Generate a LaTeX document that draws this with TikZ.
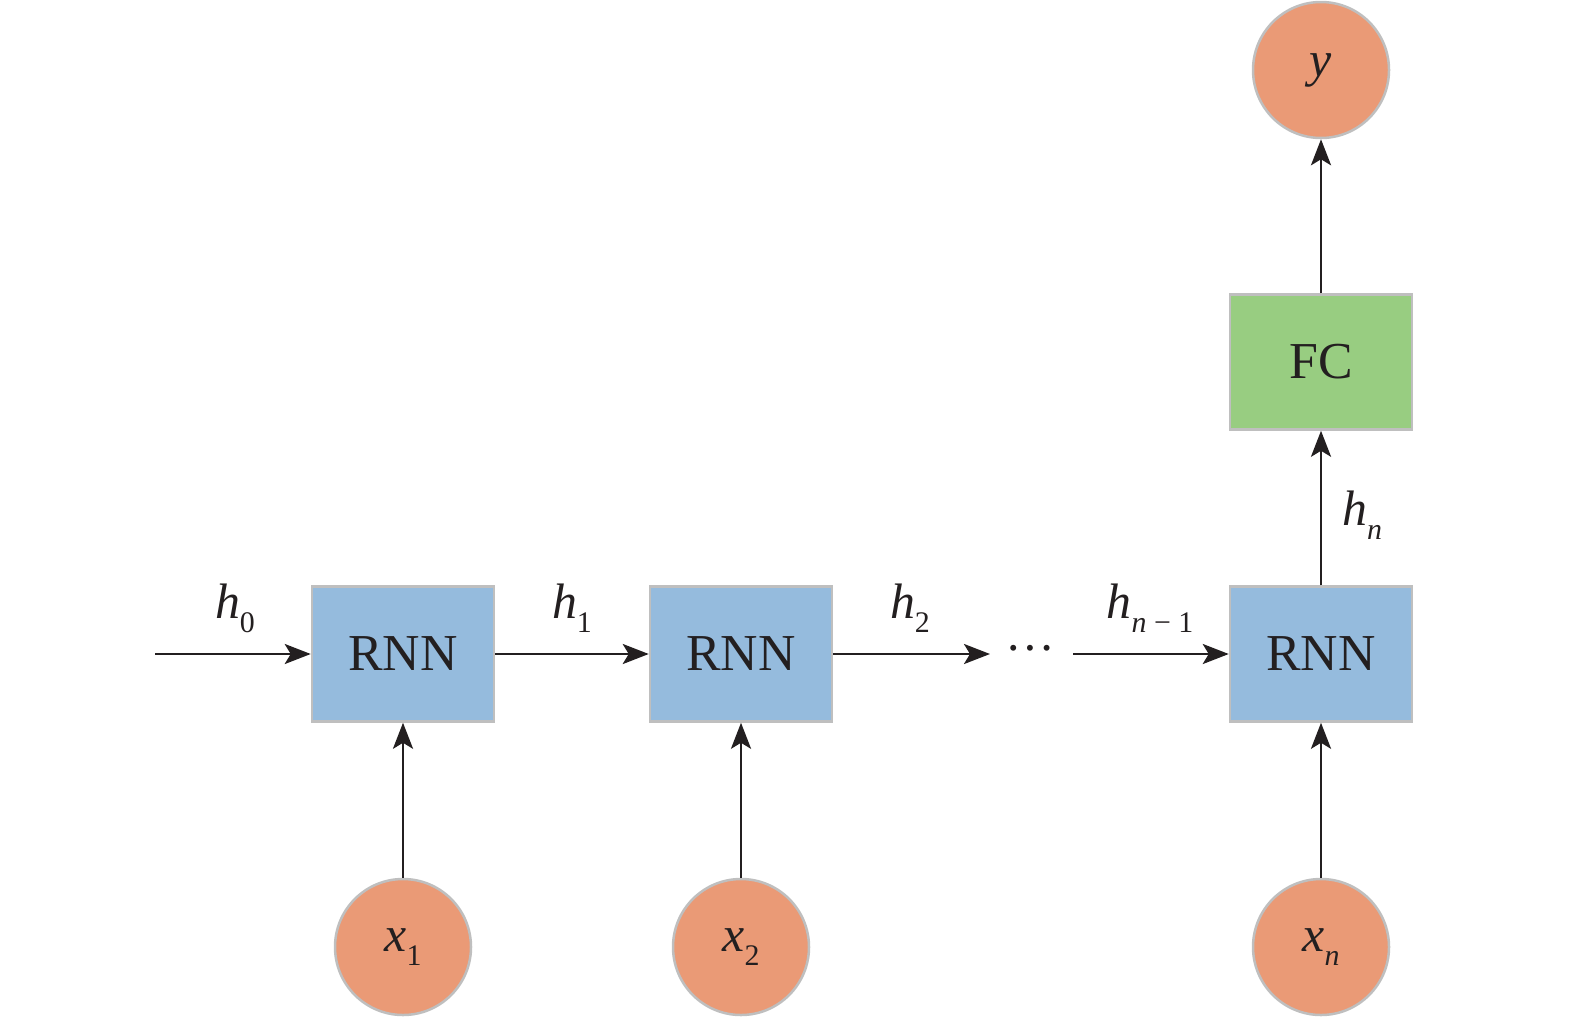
\documentclass[tikz,border=0pt]{standalone}
\usepackage{fontspec}
\setmainfont{Liberation Serif}
\usetikzlibrary{arrows.meta}
\definecolor{bx}{HTML}{95BBDD}
\definecolor{gr}{HTML}{98CD81}
\definecolor{or}{HTML}{EA9A76}
\definecolor{bd}{HTML}{BFBFBF}
\definecolor{ink}{HTML}{231F20}
\newcommand{\sbx}[1]{\raisebox{-0.28em}{\fontsize{30}{32}\selectfont #1}}
\begin{document}
\begin{tikzpicture}[x=1bp,y=-1bp,
 box/.style={draw=bd,line width=2.5bp,minimum width=182bp,minimum height=135bp,inner sep=0pt,font=\fontsize{52}{54}\selectfont,text=ink},
 circ/.style={circle,draw=bd,line width=2.5bp,fill=or,minimum size=136bp,inner sep=0pt,font=\fontsize{50}{52}\selectfont,text=ink},
 arr/.style={draw=ink,line width=2.8bp,-{Stealth[length=26bp,width=20bp,inset=6bp]}},
 lab/.style={font=\fontsize{50}{52}\selectfont,text=ink,inner sep=0pt}]
\useasboundingbox (0,0) rectangle (1575,1024);
\node[box,fill=bx] (r1) at (403,654) {RNN};
\node[box,fill=bx] (r2) at (741,654) {RNN};
\node[box,fill=bx] (r3) at (1321,654) {RNN};
\node[box,fill=gr] (fc) at (1321,362) {FC};
\node[circ] (x1) at (403,947) {\textit{x}\sbx{1}};
\node[circ] (x2) at (741,947) {\textit{x}\sbx{2}};
\node[circ] (xn) at (1321,947) {\textit{x}\sbx{\textit{n}}};
\node[circ] (y) at (1321,70) {\textit{y}};
\coordinate (s) at (155,654);
\coordinate (e2) at (990,654);
\coordinate (s3) at (1073,654);
\node[lab] (dots) at (1030,648) {…};
\draw[arr] (s) -- (r1);
\draw[arr] (r1) -- (r2);
\draw[arr] (r2) -- (e2);
\draw[arr] (s3) -- (r3);
\draw[arr] (x1) -- (r1);
\draw[arr] (x2) -- (r2);
\draw[arr] (xn) -- (r3);
\draw[arr] (r3) -- (fc);
\draw[arr] (fc) -- (y);
\node[lab] (l0) at (235,608) {\textit{h}\sbx{0}};
\node[lab] (l1) at (572,608) {\textit{h}\sbx{1}};
\node[lab] (l2) at (910,608) {\textit{h}\sbx{2}};
\node[lab] (l3) at (1150,608) {\textit{h}\sbx{\textit{n} − 1}};
\node[lab] (l4) at (1362,515) {\textit{h}\sbx{\textit{n}}};
\end{tikzpicture}
\end{document}
